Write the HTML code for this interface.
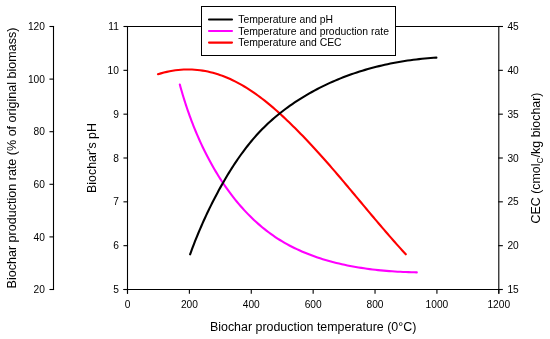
<!DOCTYPE html>
<html><head><meta charset="utf-8"><style>
html,body{margin:0;padding:0;background:#fff;}
svg{display:block;}
.ax{stroke:#000;stroke-width:1.1;fill:none;stroke-linecap:square;}
.cv{fill:none;stroke-width:2.1;stroke-linecap:round;stroke-linejoin:round;}
text{font-family:"Liberation Sans",Arial,sans-serif;fill:#000;}
.tk{font-size:10.2px;}
.tt{font-size:12.42px;}
.lg{font-size:10.4px;}
</style></head><body>
<svg width="550" height="339" viewBox="0 0 550 339">
<path d="M53.5,26.5V289.5" class="ax"/>
<path d="M50.0,289.50H53.5" class="ax"/>
<text x="44.9" y="293.10" class="tk" text-anchor="end">20</text>
<path d="M50.0,236.90H53.5" class="ax"/>
<text x="44.9" y="240.50" class="tk" text-anchor="end">40</text>
<path d="M50.0,184.30H53.5" class="ax"/>
<text x="44.9" y="187.90" class="tk" text-anchor="end">60</text>
<path d="M50.0,131.70H53.5" class="ax"/>
<text x="44.9" y="135.30" class="tk" text-anchor="end">80</text>
<path d="M50.0,79.10H53.5" class="ax"/>
<text x="44.9" y="82.70" class="tk" text-anchor="end">100</text>
<path d="M50.0,26.50H53.5" class="ax"/>
<text x="44.9" y="30.10" class="tk" text-anchor="end">120</text>
<path d="M127.5,26.5V293.2" class="ax"/>
<path d="M124.0,289.50H127.5" class="ax"/>
<text x="118.9" y="293.10" class="tk" text-anchor="end">5</text>
<path d="M124.0,245.67H127.5" class="ax"/>
<text x="118.9" y="249.27" class="tk" text-anchor="end">6</text>
<path d="M124.0,201.83H127.5" class="ax"/>
<text x="118.9" y="205.43" class="tk" text-anchor="end">7</text>
<path d="M124.0,158.00H127.5" class="ax"/>
<text x="118.9" y="161.60" class="tk" text-anchor="end">8</text>
<path d="M124.0,114.17H127.5" class="ax"/>
<text x="118.9" y="117.77" class="tk" text-anchor="end">9</text>
<path d="M124.0,70.33H127.5" class="ax"/>
<text x="118.9" y="73.93" class="tk" text-anchor="end">10</text>
<path d="M124.0,26.50H127.5" class="ax"/>
<text x="118.9" y="30.10" class="tk" text-anchor="end">11</text>
<path d="M124.0,289.5H498.8" class="ax"/>
<path d="M127.5,26.5H502.3" class="ax"/>
<path d="M127.50,289.5V293.2" class="ax"/>
<text x="127.50" y="307.90" class="tk" text-anchor="middle">0</text>
<path d="M189.38,289.5V293.2" class="ax"/>
<text x="189.38" y="307.90" class="tk" text-anchor="middle">200</text>
<path d="M251.27,289.5V293.2" class="ax"/>
<text x="251.27" y="307.90" class="tk" text-anchor="middle">400</text>
<path d="M313.15,289.5V293.2" class="ax"/>
<text x="313.15" y="307.90" class="tk" text-anchor="middle">600</text>
<path d="M375.03,289.5V293.2" class="ax"/>
<text x="375.03" y="307.90" class="tk" text-anchor="middle">800</text>
<path d="M436.92,289.5V293.2" class="ax"/>
<text x="436.92" y="307.90" class="tk" text-anchor="middle">1000</text>
<path d="M498.80,289.5V293.2" class="ax"/>
<text x="498.80" y="307.90" class="tk" text-anchor="middle">1200</text>
<path d="M498.8,26.5V293.2" class="ax"/>
<path d="M498.8,289.50H502.3" class="ax"/>
<text x="507.40000000000003" y="293.10" class="tk">15</text>
<path d="M498.8,245.67H502.3" class="ax"/>
<text x="507.40000000000003" y="249.27" class="tk">20</text>
<path d="M498.8,201.83H502.3" class="ax"/>
<text x="507.40000000000003" y="205.43" class="tk">25</text>
<path d="M498.8,158.00H502.3" class="ax"/>
<text x="507.40000000000003" y="161.60" class="tk">30</text>
<path d="M498.8,114.17H502.3" class="ax"/>
<text x="507.40000000000003" y="117.77" class="tk">35</text>
<path d="M498.8,70.33H502.3" class="ax"/>
<text x="507.40000000000003" y="73.93" class="tk">40</text>
<path d="M498.8,26.50H502.3" class="ax"/>
<text x="507.40000000000003" y="30.10" class="tk">45</text>
<text transform="translate(15.9,158.00) rotate(-90)" class="tt" style="font-size:12.55px" text-anchor="middle">Biochar production rate (% of original biomass)</text>
<text transform="translate(96,158.00) rotate(-90)" class="tt" text-anchor="middle">Biochar's pH</text>
<text x="313.15" y="330.6" class="tt" text-anchor="middle">Biochar production temperature (0°C)</text>
<text transform="translate(540.3,158.00) rotate(-90)" class="tt" text-anchor="middle">CEC (cmol<tspan font-size="8.5" dy="2.6">C</tspan><tspan dy="-2.6">/kg biochar)</tspan></text>
<path d="M157.98,74.27 L160.94,73.38 L163.87,72.59 L166.78,71.89 L169.67,71.28 L172.54,70.76 L175.38,70.33 L178.20,69.99 L181.00,69.74 L183.78,69.57 L186.53,69.49 L189.27,69.48 L191.98,69.55 L194.67,69.71 L197.34,69.93 L199.99,70.24 L202.62,70.61 L205.23,71.06 L207.82,71.57 L210.39,72.16 L212.94,72.81 L215.46,73.52 L217.97,74.29 L220.47,75.13 L222.94,76.03 L225.39,76.98 L227.82,77.99 L230.24,79.06 L232.64,80.18 L235.02,81.35 L237.38,82.56 L239.72,83.83 L242.05,85.14 L244.35,86.50 L246.65,87.90 L248.92,89.34 L251.18,90.82 L253.42,92.34 L255.64,93.89 L257.85,95.48 L260.04,97.10 L262.21,98.75 L264.37,100.43 L266.52,102.14 L268.65,103.88 L270.76,105.64 L272.86,107.42 L274.94,109.23 L277.01,111.05 L279.06,112.89 L281.10,114.75 L283.13,116.62 L285.14,118.51 L287.14,120.40 L289.12,122.31 L291.09,124.22 L293.05,126.14 L295.00,128.07 L296.93,130.00 L298.85,131.95 L300.76,133.89 L302.66,135.85 L304.54,137.81 L306.42,139.77 L308.28,141.75 L310.14,143.72 L311.99,145.71 L313.82,147.69 L315.65,149.69 L317.47,151.69 L319.29,153.69 L321.09,155.70 L322.89,157.71 L324.68,159.73 L326.46,161.75 L328.24,163.78 L330.01,165.80 L331.77,167.84 L333.54,169.87 L335.29,171.91 L337.04,173.96 L338.79,176.00 L340.53,178.05 L342.27,180.10 L344.01,182.15 L345.75,184.21 L347.48,186.27 L349.21,188.33 L350.94,190.39 L352.67,192.45 L354.39,194.52 L356.12,196.58 L357.85,198.65 L359.58,200.72 L361.30,202.79 L363.03,204.86 L364.76,206.93 L366.49,209.00 L368.23,211.07 L369.96,213.14 L371.70,215.21 L373.45,217.28 L375.19,219.35 L376.94,221.42 L378.70,223.49 L380.45,225.55 L382.22,227.62 L383.99,229.68 L385.76,231.74 L387.54,233.80 L389.33,235.86 L391.12,237.92 L392.93,239.98 L394.74,242.03 L396.55,244.08 L398.38,246.12 L400.21,248.17 L402.05,250.21 L403.91,252.25 L405.77,254.28" class="cv" stroke="#ff0000"/>
<path d="M179.84,84.57 L180.54,87.15 L181.27,89.74 L182.01,92.33 L182.78,94.93 L183.57,97.54 L184.38,100.14 L185.21,102.76 L186.06,105.37 L186.93,107.98 L187.82,110.60 L188.74,113.22 L189.68,115.84 L190.64,118.45 L191.62,121.07 L192.62,123.68 L193.64,126.29 L194.69,128.89 L195.76,131.49 L196.85,134.09 L197.97,136.68 L199.10,139.26 L200.26,141.83 L201.44,144.40 L202.65,146.96 L203.88,149.51 L205.13,152.04 L206.40,154.57 L207.70,157.09 L209.02,159.59 L210.37,162.08 L211.73,164.56 L213.13,167.02 L214.54,169.47 L215.98,171.90 L217.44,174.31 L218.93,176.71 L220.44,179.09 L221.98,181.45 L223.54,183.79 L225.13,186.11 L226.74,188.41 L228.37,190.68 L230.03,192.94 L231.71,195.17 L233.42,197.38 L235.16,199.57 L236.92,201.72 L238.70,203.86 L240.51,205.96 L242.35,208.04 L244.21,210.09 L246.10,212.12 L248.01,214.11 L249.95,216.07 L251.92,218.01 L253.91,219.91 L255.93,221.77 L257.97,223.61 L260.04,225.41 L262.14,227.18 L264.27,228.91 L266.42,230.61 L268.60,232.27 L270.80,233.89 L273.03,235.47 L275.29,237.02 L277.58,238.53 L279.90,239.99 L282.24,241.42 L284.61,242.81 L287.00,244.15 L289.42,245.46 L291.86,246.73 L294.33,247.96 L296.82,249.15 L299.33,250.31 L301.86,251.43 L304.41,252.52 L306.98,253.57 L309.57,254.58 L312.18,255.56 L314.81,256.51 L317.45,257.42 L320.11,258.30 L322.78,259.15 L325.46,259.97 L328.16,260.75 L330.87,261.50 L333.60,262.23 L336.33,262.92 L339.07,263.59 L341.83,264.22 L344.59,264.83 L347.36,265.41 L350.13,265.96 L352.92,266.49 L355.70,266.99 L358.49,267.46 L361.29,267.91 L364.09,268.33 L366.89,268.73 L369.69,269.11 L372.49,269.46 L375.30,269.79 L378.10,270.10 L380.90,270.39 L383.70,270.65 L386.49,270.90 L389.28,271.12 L392.07,271.32 L394.85,271.51 L397.62,271.68 L400.39,271.82 L403.14,271.95 L405.89,272.07 L408.63,272.17 L411.36,272.25 L414.08,272.31 L416.78,272.36" class="cv" stroke="#ff00ff"/>
<path d="M190.11,254.32 L191.04,251.77 L191.99,249.21 L192.95,246.64 L193.94,244.07 L194.95,241.49 L195.97,238.91 L197.02,236.33 L198.08,233.74 L199.17,231.15 L200.27,228.56 L201.39,225.97 L202.53,223.38 L203.68,220.80 L204.86,218.21 L206.05,215.63 L207.26,213.05 L208.49,210.48 L209.73,207.91 L210.99,205.34 L212.27,202.78 L213.57,200.23 L214.88,197.69 L216.21,195.16 L217.55,192.64 L218.91,190.12 L220.29,187.62 L221.68,185.13 L223.08,182.65 L224.51,180.19 L225.95,177.74 L227.40,175.30 L228.87,172.89 L230.36,170.49 L231.86,168.11 L233.38,165.74 L234.92,163.40 L236.48,161.08 L238.05,158.78 L239.64,156.50 L241.24,154.25 L242.87,152.02 L244.51,149.82 L246.17,147.64 L247.86,145.48 L249.57,143.35 L251.30,141.24 L253.06,139.16 L254.84,137.10 L256.65,135.07 L258.50,133.06 L260.37,131.07 L262.27,129.10 L264.21,127.16 L266.18,125.24 L268.19,123.35 L270.23,121.47 L272.30,119.62 L274.41,117.79 L276.55,115.98 L278.72,114.20 L280.92,112.45 L283.15,110.71 L285.41,109.00 L287.70,107.32 L290.01,105.67 L292.35,104.03 L294.71,102.43 L297.10,100.85 L299.51,99.30 L301.94,97.78 L304.39,96.28 L306.87,94.82 L309.36,93.38 L311.87,91.97 L314.40,90.59 L316.94,89.23 L319.50,87.91 L322.08,86.62 L324.67,85.36 L327.28,84.12 L329.90,82.92 L332.53,81.75 L335.18,80.60 L337.84,79.48 L340.51,78.40 L343.20,77.34 L345.90,76.31 L348.61,75.30 L351.33,74.33 L354.06,73.38 L356.80,72.46 L359.56,71.57 L362.32,70.71 L365.09,69.88 L367.87,69.07 L370.66,68.29 L373.46,67.54 L376.27,66.81 L379.08,66.11 L381.90,65.44 L384.73,64.80 L387.57,64.18 L390.41,63.58 L393.26,63.02 L396.11,62.48 L398.97,61.97 L401.83,61.48 L404.69,61.02 L407.56,60.58 L410.44,60.17 L413.32,59.79 L416.20,59.43 L419.08,59.09 L421.96,58.78 L424.85,58.50 L427.74,58.24 L430.63,58.00 L433.51,57.79 L436.40,57.61" class="cv" stroke="#000000"/>
<rect x="201.5" y="6.5" width="194.0" height="49.0" fill="#fff" stroke="#000" stroke-width="1"/>
<path d="M209,19.50H232" stroke="#000" stroke-width="2.1" stroke-linecap="round" fill="none"/>
<text x="238.2" y="23.20" class="lg">Temperature and pH</text>
<path d="M209,31.05H232" stroke="#ff00ff" stroke-width="2.1" stroke-linecap="round" fill="none"/>
<text x="238.2" y="34.75" class="lg">Temperature and production rate</text>
<path d="M209,42.60H232" stroke="#ff0000" stroke-width="2.1" stroke-linecap="round" fill="none"/>
<text x="238.2" y="46.30" class="lg">Temperature and CEC</text>
</svg>
</body></html>
